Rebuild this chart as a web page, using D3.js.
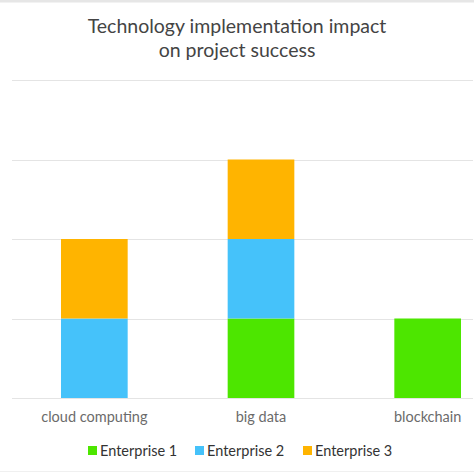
<!DOCTYPE html>
<html><head><meta charset="utf-8">
<script src="https://cdn.jsdelivr.net/npm/d3@7"></script>
<style>body{margin:0;background:#fff}svg{display:block;font-family:Lato,"Open Sans",sans-serif}</style>
</head><body><svg id="c" width="474" height="474"></svg>
<script>
const categories = ["cloud computing", "big data", "blockchain"];
const seriesNames = ["Enterprise 1", "Enterprise 2", "Enterprise 3"];
const enterprise1 = [0, 1, 1];
const enterprise2 = [1, 1, 0];
const enterprise3 = [1, 1, 0];
const yTicks = [0, 1, 2, 3, 4];
const colors = ["#4de600", "#45c2fa", "#ffb400"];

const svg = d3.select("#c");
svg.append("rect").attr("x",0).attr("y",0).attr("width",474).attr("height",2.5).attr("fill","#e6e6e6");
svg.append("line").attr("x1",0).attr("x2",474).attr("y1",471.5).attr("y2",471.5).attr("stroke","#f0f0f0");

const x = d3.scaleBand().domain(categories).range([11, 511]).paddingInner(0.6).paddingOuter(0.3);
const y = d3.scaleLinear().domain([0, 4]).range([398, 80]);

const grid = svg.append("g");
grid.selectAll("line").data(yTicks).join("line")
  .attr("x1", 12).attr("x2", 473)
  .attr("y1", d => Math.round(y(d)) + 0.5).attr("y2", d => Math.round(y(d)) + 0.5)
  .attr("stroke", "#e4e4e4").attr("stroke-width", 1);

const table = categories.map((c, i) => ({cat: c, "Enterprise 1": enterprise1[i], "Enterprise 2": enterprise2[i], "Enterprise 3": enterprise3[i]}));
const stack = d3.stack().keys(seriesNames)(table);

svg.append("g").selectAll("g").data(stack).join("g")
  .attr("fill", (d, i) => colors[i])
  .selectAll("rect").data(d => d.filter(p => p[1] - p[0] > 0)).join("rect")
  .attr("x", d => x(d.data.cat))
  .attr("width", x.bandwidth())
  .attr("y", d => y(d[1]))
  .attr("height", d => y(d[0]) - y(d[1]));

const xAxis = svg.append("g").attr("transform", "translate(0,398)")
  .call(d3.axisBottom(x).tickSize(0).tickPadding(14));
xAxis.select(".domain").remove();
xAxis.selectAll("text").attr("font-family", "Lato, sans-serif").attr("font-size", 14.5).attr("fill", "#6b6b6b");

const title = svg.append("text").attr("text-anchor", "middle").attr("font-size", 19.5).attr("fill", "#444");
title.append("tspan").attr("x", 237).attr("y", 33).text("Technology implementation impact");
title.append("tspan").attr("x", 237).attr("y", 57).text("on project success");

const legendX = [88, 195, 303];
const lg = svg.append("g").selectAll("g").data(seriesNames).join("g")
  .attr("transform", (d, i) => `translate(${legendX[i]},446)`);
lg.append("rect").attr("width", 9).attr("height", 9).attr("y", 0).attr("fill", (d, i) => colors[i]);
lg.append("text").attr("x", 12).attr("y", 9.5).attr("font-size", 14.5).attr("fill", "#333").text(d => d);
</script></body></html>
